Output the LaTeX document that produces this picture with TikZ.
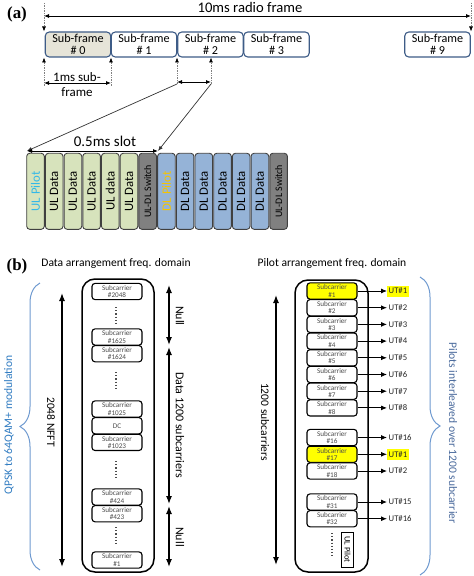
\documentclass[tikz,border=0pt]{standalone}
\usepackage{fontspec}
\setmainfont{Carlito}
\newfontfamily\tagfont{Liberation Serif}
\usetikzlibrary{arrows.meta,decorations.pathreplacing}
\definecolor{sfedge}{HTML}{3E5C87}
\definecolor{sffill}{HTML}{E6E4D8}
\definecolor{ulfill}{HTML}{D7E3BC}
\definecolor{swfill}{HTML}{808080}
\definecolor{dlfill}{HTML}{95B3D7}
\definecolor{ulpilottext}{HTML}{33B8E8}
\definecolor{dlpilottext}{HTML}{F5C400}
\definecolor{hilite}{HTML}{FFFF00}
\definecolor{bracecol}{HTML}{6F9AD0}
\definecolor{qpskblue}{HTML}{2F7BC1}
\definecolor{pilotblue}{HTML}{4A6A9C}
\tikzset{
  subframe/.style={draw=sfedge, line width=1.1bp, rounded corners=4bp, fill=white,
    minimum width=65.5bp, minimum height=25bp, inner sep=0pt, align=center,
    font=\fontsize{12.2}{11.6}\selectfont},
  slotbox/.style={draw=black!75, line width=0.9bp, rounded corners=3bp, rotate=90,
    minimum width=76bp, minimum height=17.6bp, inner sep=0pt,
    font=\fontsize{12.8}{13}\selectfont},
  ulpilot/.style={fill=ulfill, text=ulpilottext},
  uldata/.style={fill=ulfill},
  ulswitch/.style={fill=swfill, font=\fontsize{10}{11}\selectfont},
  dlpilot/.style={fill=dlfill, text=dlpilottext},
  dldata/.style={fill=dlfill},
  subcar/.style={draw, line width=1.1bp, rounded corners=3bp, fill=white,
    minimum width=50bp, minimum height=16.2bp, inner sep=0pt, align=center,
    text=black!70, font=\fontsize{7.2}{7.4}\selectfont},
  plain/.style={},
  hl/.style={fill=hilite},
  colbox/.style={draw, line width=1.5bp, rounded corners=13bp, inner sep=0pt},
  bigspan/.style={{Latex[length=8bp,width=6bp]}-{Latex[length=8bp,width=6bp]}, line width=1.3bp},
  thinspan/.style={{Latex[length=5bp,width=4bp]}-{Latex[length=5bp,width=4bp]}, line width=0.8bp},
  guide/.style={densely dotted, draw=black!50, line width=0.7bp, -{Latex[length=5bp,width=4bp,color=black]}},
  zoomline/.style={draw=black!80, line width=0.7bp, -{Latex[length=5bp,width=4bp]}},
  utarrow/.style={line width=0.9bp, -{Latex[length=6bp,width=5bp]}},
  utlabel/.style={anchor=west, inner sep=1.5bp, minimum height=11bp, text=black!85,
    font=\fontsize{8.7}{9}\selectfont},
  vlabel/.style={rotate=-90, font=\fontsize{12}{13}\selectfont},
  dots/.style={dotted, line width=1.2bp, draw=black!70},
  sidebrace/.style={decorate, decoration={brace, amplitude=20bp}, draw=bracecol, line width=1bp},
}

\begin{document}
\begin{tikzpicture}[x=1bp, y=-1bp]
\useasboundingbox (0,0) rectangle (474,576);

% (a) radio frame made of sub-frames
\node[font=\tagfont\fontsize{17}{17}\selectfont\bfseries] (taga) at (17,14) {(a)};
\node[subframe, fill=sffill] (sf0) at (78,44.5) {Sub-frame\\\# 0};
\node[subframe] (sf1) at (144,44.5) {Sub-frame\\\# 1};
\node[subframe] (sf2) at (210.5,44.5) {Sub-frame\\\# 2};
\node[subframe] (sf3) at (276.5,44.5) {Sub-frame\\\# 3};
\node[subframe] (sf9) at (437.5,44.5) {Sub-frame\\\# 9};

\coordinate (ltop) at (44,3);
\coordinate (rtop) at (471,3);
\coordinate (lfoot) at (44,31.5);
\coordinate (rfoot) at (471,31.5);
\draw[guide] (ltop) -- (lfoot);
\draw[guide] (rtop) -- (rfoot);
\coordinate (fl) at (44,16);
\coordinate (fr) at (471,16);
\draw[thinspan] (fl) -- (fr);
\node[font=\fontsize{14.7}{15}\selectfont] (tenms) at (250,7) {10ms radio frame};

% one sub-frame and one slot marked below the frame
\coordinate (m0) at (44,86);
\coordinate (m1) at (111,86);
\coordinate (m2) at (177,84);
\coordinate (m3) at (211,84);
\draw[guide] (m0) -- (44,57.5);
\draw[guide] (m1) -- (111,57.5);
\draw[guide] (m2) -- (177,57.5);
\draw[guide] (m3) -- (211,57.5);
\coordinate (sa) at (44,83);
\coordinate (sb) at (111,83);
\draw[thinspan] (sa) -- (sb);
\node[align=center, font=\fontsize{13}{15.5}\selectfont] (onems) at (77,84.5) {1ms sub-\\frame};
\coordinate (ha) at (177,82);
\coordinate (hb) at (211,82);
\draw[thinspan] (ha) -- (hb);

\coordinate (slotl) at (27,151);
\coordinate (slotr) at (158,151);
\draw[zoomline] (m2) -- (slotl);
\draw[zoomline] (m3) -- (slotr);
\draw[thinspan] (slotl) -- (slotr);
\node[font=\fontsize{15}{16}\selectfont] (halfms) at (105,141) {0.5ms slot};

% slot contents
\foreach \kind/\txt [count=\k from 0] in {ulpilot/UL Pilot, uldata/UL Data, uldata/UL Data,
    uldata/UL Data, uldata/UL data, uldata/UL Data, ulswitch/UL-DL Switch,
    dlpilot/DL Pilot, dldata/DL Data, dldata/DL Data, dldata/DL Data, dldata/DL Data,
    dldata/DL Data, ulswitch/UL-DL Switch}
  \node[slotbox, \kind] (sl\k) at ({35.5+18.7*\k},191.3) {\txt};

% (b) data arrangement
\node[font=\tagfont\fontsize{17}{17}\selectfont\bfseries] (tagb) at (17,266) {(b)};
\node[font=\fontsize{11.6}{12}\selectfont] (dtitle) at (116,263) {Data arrangement freq. domain};
\node[colbox, minimum width=72bp, minimum height=293bp] (dcol) at (118,425.5) {};
\foreach \n/\y in {2048/291.5, 1625/337, 1624/353.7, 1025/409, 1023/442.4, 424/497, 423/513.7, 1/560}
  \node[subcar] (d\n) at (117,\y) {Subcarrier\\\#\n};
\node[subcar] (ddc) at (117,425.7) {DC};
\draw[dots] (116,307) -- (116,324);
\draw[dots] (116,372) -- (116,389);
\draw[dots] (116,461) -- (116,478);
\draw[dots] (116,527) -- (116,544);

\coordinate (nfftt) at (62,293);
\coordinate (nfftb) at (62,567);
\draw[bigspan] (nfftt) -- (nfftb);
\node[vlabel, font=\fontsize{11.5}{12}\selectfont] (nfft) at (51,422) {2048 NFFT};

\coordinate (r0) at (169,285);
\coordinate (r1) at (169,345);
\coordinate (r2) at (169,347);
\coordinate (r3) at (169,504);
\coordinate (r4) at (169,506);
\coordinate (r5) at (169,567);
\draw[bigspan] (r0) -- (r1);
\draw[bigspan] (r2) -- (r3);
\draw[bigspan] (r4) -- (r5);
\node[vlabel] (nulltop) at (180,316) {Null};
\node[vlabel] (datarange) at (180,425) {Data 1200 subcarriers};
\node[vlabel] (nullbot) at (180,537) {Null};

\coordinate (qb) at (40,570);
\coordinate (qt) at (40,283);
\draw[sidebrace] (qb) -- (qt);
\node[rotate=90, text=qpskblue, font=\fontsize{11.6}{12}\selectfont] (qpsk) at (9,425) {QPSK to 64QAM+ modulation};

% (b) pilot arrangement, subcarriers handed out to the UTs in turn
\node[font=\fontsize{11.6}{12}\selectfont] (ptitle) at (332,263) {Pilot arrangement freq. domain};
\node[colbox, minimum width=73bp, minimum height=292bp] (pcol) at (331.5,426) {};
\foreach \n/\y/\ut/\mk in {1/291/1/hl, 2/307.7/2/plain, 3/324.4/3/plain, 4/341.1/4/plain,
    5/357.8/5/plain, 6/374.5/6/plain, 7/391.2/7/plain, 8/407.9/8/plain,
    16/437.5/16/plain, 17/454.3/1/hl, 18/471/2/plain, 31/502/15/plain, 32/518.7/16/plain}
{
  \node[subcar, \mk] (p\n) at (332,\y) {Subcarrier\\\#\n};
  \node[utlabel, \mk] (u\n) at (387,\y) {UT\#\ut};
  \draw[utarrow] (p\n.east) -- (u\n.west);
}
\draw[dots] (332,533) -- (332,556);
\node[draw, line width=0.8bp, rotate=-90, inner sep=1bp, minimum width=35bp, minimum height=11.5bp,
  font=\fontsize{8.5}{9}\selectfont] (ulp) at (347.5,549.5) {UL Pilot};

\coordinate (st) at (276,295);
\coordinate (sb2) at (276,565);
\draw[bigspan] (st) -- (sb2);
\node[vlabel, font=\fontsize{11.6}{12}\selectfont] (subs) at (265,422) {1200 subcarriers};

\coordinate (pt) at (420,277);
\coordinate (pb) at (420,575);
\draw[sidebrace] (pt) -- (pb);
\node[vlabel, text=pilotblue, font=\fontsize{11.6}{12}\selectfont] (interl) at (453,433) {Pilots interleaved over 1200 subcarrier};

\end{tikzpicture}
\end{document}
